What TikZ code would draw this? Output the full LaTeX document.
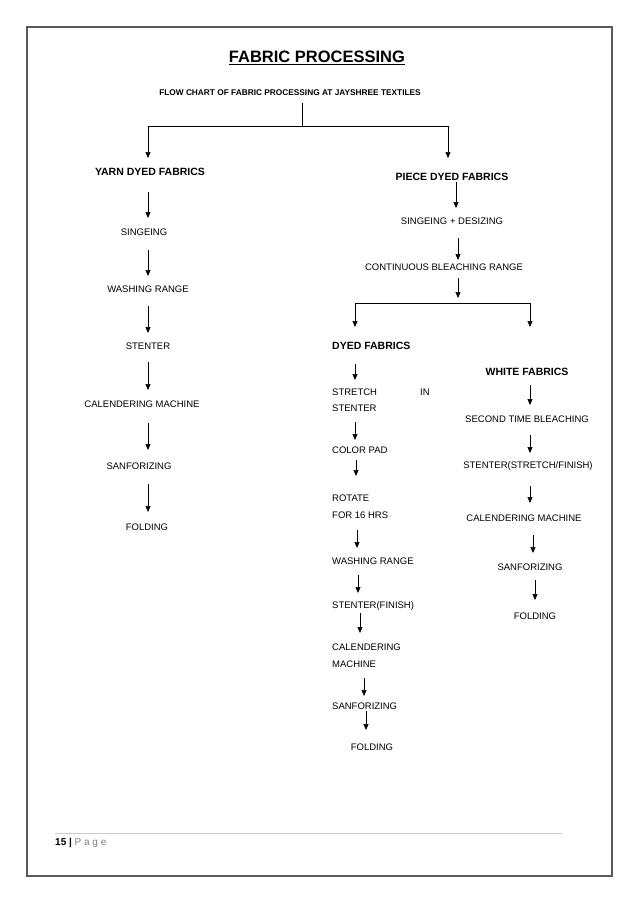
\documentclass[tikz,border=0pt]{standalone}
\usepackage{fontspec}
\setmainfont{Liberation Sans}
\usetikzlibrary{arrows.meta}
\begin{document}
\begin{tikzpicture}[x=1pt,y=-1pt,
  t/.style={font=\fontsize{9.5}{11}\selectfont,inner sep=0pt},
  tl/.style={t,anchor=west},
  b/.style={font=\fontsize{10.5}{12}\bfseries\selectfont,inner sep=0pt},
  arr/.style={-{Triangle[length=6pt,width=5pt]},line width=0.7pt}]
\useasboundingbox (0,0) rectangle (638,902);
\draw[gray!70!black,line width=1.6pt] (27,27) rectangle (612,876);
\draw[gray!40,line width=0.5pt] (55,833) -- (562,833);
\node[anchor=west,inner sep=0pt,font=\fontsize{10}{12}\selectfont] (pg) at (55,843) {\textbf{15 |} \textcolor{gray}{P a g e}};
\node[inner sep=0pt,font=\fontsize{16.5}{19}\bfseries\selectfont] (title) at (317,58) {\underline{FABRIC PROCESSING}};
\node[inner sep=0pt,font=\fontsize{8.3}{10}\bfseries\selectfont] (sub) at (290,93) {FLOW CHART OF FABRIC PROCESSING AT JAYSHREE TEXTILES};
\draw[line width=0.7pt] (302,103) -- (302,126);
\draw[line width=0.7pt] (148,126) -- (448,126);
\draw[arr] (148,126) -- (148,158);
\draw[arr] (448,126) -- (448,158);
% left
\node[b] (y0) at (150,172) {YARN DYED FABRICS};
\draw[arr] (148,192) -- (148,218);
\node[t] (y1) at (144,232) {SINGEING};
\draw[arr] (148,250) -- (148,276);
\node[t] (y2) at (148,289) {WASHING RANGE};
\draw[arr] (148,306) -- (148,333);
\node[t] (y3) at (148,346) {STENTER};
\draw[arr] (148,362) -- (148,390);
\node[t] (y4) at (142,404) {CALENDERING MACHINE};
\draw[arr] (148,423) -- (148,450);
\node[t] (y5) at (139,466) {SANFORIZING};
\draw[arr] (148,484) -- (148,512);
\node[t] (y6) at (147,527) {FOLDING};
% right
\node[b] (p0) at (452,177) {PIECE DYED FABRICS};
\draw[arr] (456,182) -- (456,208);
\node[t] (p1) at (452,221) {SINGEING + DESIZING};
\draw[arr] (458,238) -- (458,260);
\node[t] (p2) at (444,267) {CONTINUOUS BLEACHING RANGE};
\draw[arr] (458,278) -- (458,298);
\draw[line width=0.7pt] (355,303) -- (530,303);
\draw[arr] (355,303) -- (355,327);
\draw[arr] (530,303) -- (530,327);
% dyed
\node[b,anchor=west] (d0) at (332,346) {DYED FABRICS};
\draw[arr] (355,364) -- (355,380);
\node[tl] (d1) at (332,392) {STRETCH};
\node[tl] (d1b) at (420,392) {IN};
\node[tl] (d1c) at (332,408) {STENTER};
\draw[arr] (355,422) -- (355,440);
\node[tl] (d2) at (332,450) {COLOR PAD};
\draw[arr] (356,460) -- (356,476);
\node[tl] (d3) at (332,498) {ROTATE};
\node[tl] (d3b) at (332,515) {FOR 16 HRS};
\draw[arr] (357,530) -- (357,548);
\node[tl] (d4) at (332,561) {WASHING RANGE};
\draw[arr] (358,575) -- (358,593);
\node[tl] (d5) at (332,606) {STENTER(FINISH)};
\draw[arr] (360,613) -- (360,633);
\node[tl] (d6) at (332,647) {CALENDERING};
\node[tl] (d6b) at (332,664) {MACHINE};
\draw[arr] (364,678) -- (364,696);
\node[tl] (d7) at (332,706) {SANFORIZING};
\draw[arr] (366,711) -- (366,730);
\node[t] (d8) at (372,747) {FOLDING};
% white
\node[b] (w0) at (527,372) {WHITE FABRICS};
\draw[arr] (530,385) -- (530,405);
\node[t] (w1) at (527,419) {SECOND TIME BLEACHING};
\draw[arr] (530,435) -- (530,453);
\node[t] (w2) at (528,466) {STENTER(STRETCH/FINISH)};
\draw[arr] (530,486) -- (530,503);
\node[t] (w3) at (524,518) {CALENDERING MACHINE};
\draw[arr] (533,535) -- (533,553);
\node[t] (w4) at (530,567) {SANFORIZING};
\draw[arr] (535,580) -- (535,600);
\node[t] (w5) at (535,616) {FOLDING};
\end{tikzpicture}
\end{document}
